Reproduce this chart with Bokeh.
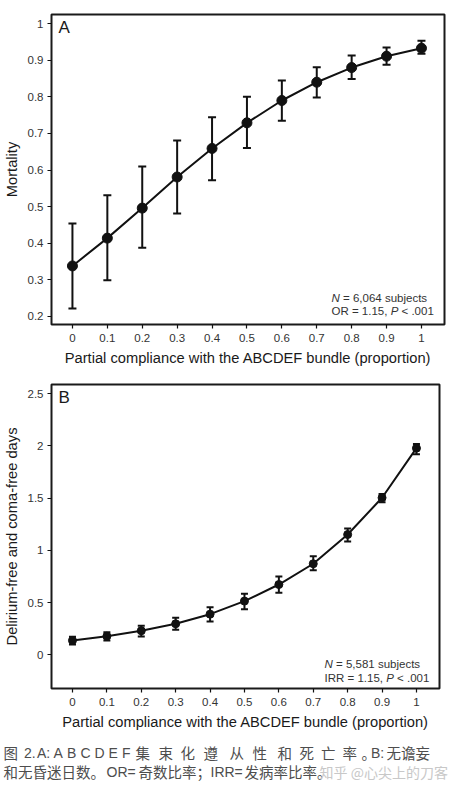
from bokeh.plotting import figure
from bokeh.models import Range1d, ColumnDataSource, Whisker, TeeHead, FixedTicker
from bokeh.layouts import column, row
from bokeh.core.properties import value
from bokeh.embed import file_html
from bokeh.resources import INLINE

# ---------------- data ----------------
compliance = [0.0, 0.1, 0.2, 0.3, 0.4, 0.5, 0.6, 0.7, 0.8, 0.9, 1.0]

mortality = [0.338, 0.414, 0.496, 0.581, 0.659, 0.729, 0.790, 0.840, 0.880, 0.911, 0.933]
mortality_lo = [0.222, 0.299, 0.388, 0.481, 0.572, 0.660, 0.735, 0.798, 0.849, 0.888, 0.918]
mortality_hi = [0.454, 0.531, 0.610, 0.681, 0.744, 0.800, 0.845, 0.881, 0.913, 0.935, 0.953]

free_days = [0.137, 0.178, 0.230, 0.297, 0.389, 0.514, 0.673, 0.872, 1.152, 1.504, 1.979]
free_days_lo = [0.099, 0.137, 0.175, 0.239, 0.319, 0.437, 0.594, 0.810, 1.085, 1.460, 1.920]
free_days_hi = [0.172, 0.217, 0.278, 0.354, 0.456, 0.584, 0.750, 0.944, 1.210, 1.540, 2.020]

x_ticks = [0.0, 0.1, 0.2, 0.3, 0.4, 0.5, 0.6, 0.7, 0.8, 0.9, 1.0]
x_tick_labels = ["0", "0.1", "0.2", "0.3", "0.4", "0.5", "0.6", "0.7", "0.8", "0.9", "1"]
a_y_ticks = [0.2, 0.3, 0.4, 0.5, 0.6, 0.7, 0.8, 0.9, 1.0]
a_y_tick_labels = ["0.2", "0.3", "0.4", "0.5", "0.6", "0.7", "0.8", "0.9", "1"]
b_y_ticks = [0.0, 0.5, 1.0, 1.5, 2.0, 2.5]
b_y_tick_labels = ["0", "0.5", "1", "1.5", "2", "2.5"]

x_title = "Partial compliance with the ABCDEF bundle (proportion)"
a_y_title = "Mortality"
b_y_title = "Delirium-free and coma-free days"

# caption tokens
caption_line1 = ["图", "2.", "A:", "A", "B", "C", "D", "E", "F", "集", "束", "化", "遵",
                 "从", "性", "和", "死", "亡", "率", "。", "B:", "无", "谵", "妄"]
caption_line1_cjk = [True, False, False, False, False, False, False, False, False,
                     True, True, True, True, True, True, True, True, True, True, True,
                     False, True, True, True]
caption_line1_x = [3, 23.5, 36.5, 53, 66.5, 80, 94, 108, 121.5, 135, 158, 180, 203,
                   229, 252, 277, 299, 320.5, 342, 361, 370.5, 386, 400.5, 415]
caption_line2 = ["和无昏迷日数。", "OR=", "奇数比率；", "IRR=", "发病率比率。"]
caption_line2_cjk = [True, False, True, False, True]
caption_line2_x = [3, 106, 138, 210, 244]
watermark = "知乎 @心尖上的刀客"

FONT = "Liberation Sans"
INK = "#111111"


def make_panel(frame_w, frame_h, border, xr, yr, yticks, ylabels, ytitle):
    p = figure(width=border[0] + frame_w + border[1], height=border[2] + frame_h + border[3],
               frame_width=frame_w, frame_height=frame_h,
               x_range=Range1d(*xr), y_range=Range1d(*yr),
               output_backend="svg", toolbar_location=None,
               min_border_left=border[0], min_border_right=border[1],
               min_border_top=border[2], min_border_bottom=border[3])
    p.xgrid.visible = False
    p.ygrid.visible = False
    p.background_fill_color = "white"
    p.border_fill_color = "white"
    p.outline_line_color = "#1a1a1a"
    p.outline_line_width = 2
    for ax in (p.xaxis[0], p.yaxis[0]):
        ax.axis_line_color = None
        ax.major_tick_line_color = INK
        ax.major_tick_line_width = 1.2
        ax.major_tick_out = 4
        ax.major_tick_in = 0
        ax.minor_tick_line_color = None
        ax.major_label_text_font = FONT
        ax.major_label_text_font_size = "11.5px"
        ax.major_label_text_color = "#333333"
        ax.axis_label_text_font = FONT
        ax.axis_label_text_font_size = "14.7px"
        ax.axis_label_text_font_style = "normal"
        ax.axis_label_text_color = "#1a1a1a"
        ax.axis_label_standoff = 5
    p.xaxis[0].ticker = FixedTicker(ticks=x_ticks)
    p.xaxis[0].major_label_overrides = {t: l for t, l in zip(x_ticks, x_tick_labels)}
    p.xaxis[0].major_label_standoff = 5
    p.xaxis[0].axis_label = x_title
    p.yaxis[0].ticker = FixedTicker(ticks=yticks)
    p.yaxis[0].major_label_overrides = {t: l for t, l in zip(yticks, ylabels)}
    p.yaxis[0].major_label_standoff = 4
    p.yaxis[0].axis_label = ytitle
    return p


def px_to_data(p, fw, fh, px, py):
    xr, yr = p.x_range, p.y_range
    return (xr.start + px / fw * (xr.end - xr.start),
            yr.end - py / fh * (yr.end - yr.start))


def add_series(p, y, lo, hi, size, head):
    src = ColumnDataSource(dict(x=compliance, y=y, lo=lo, hi=hi))
    p.add_layout(Whisker(base="x", upper="hi", lower="lo", source=src,
                         line_color=INK, line_width=2,
                         upper_head=TeeHead(size=head, line_color=INK, line_width=2),
                         lower_head=TeeHead(size=head, line_color=INK, line_width=2)))
    p.line("x", "y", source=src, line_color=INK, line_width=2)
    p.scatter("x", "y", source=src, size=size, fill_color=INK, line_color=INK)


def add_note(p, fw, fh, px, py1, py2, n_text, stat_prefix):
    fs = 11.5
    common = dict(text_font=value(FONT), text_font_size=f"{fs}px", text_color="#333333",
                  text_baseline="middle", text_align="left")
    x0, y1 = px_to_data(p, fw, fh, px, py1)
    _, y2 = px_to_data(p, fw, fh, px, py2)
    p.text(x=[x0], y=[y1], text=["N"], text_font_style="italic", **common)
    p.text(x=[x0], y=[y1], x_offset=(0.722 + 0.278) * fs, text=[n_text], **common)
    widths = {"OR = 1.15,": 5.142, "IRR = 1.15,": 5.364}
    w = widths[stat_prefix] * fs
    p.text(x=[x0], y=[y2], text=[stat_prefix], **common)
    p.text(x=[x0], y=[y2], x_offset=w, text=["P"], text_font_style="italic", **common)
    p.text(x=[x0], y=[y2], x_offset=w + (0.667 + 0.278) * fs, text=["< .001"], **common)


def add_letter(p, fw, fh, px, py, letter):
    x, y = px_to_data(p, fw, fh, px, py)
    p.text(x=[x], y=[y], text=[letter], text_font=value(FONT), text_font_size="17px",
           text_color="#1a1a1a", text_baseline="middle", text_align="left")


# ---------------- Panel A ----------------
AW, AH = 393, 310
pA = make_panel(AW, AH, (48, 8, 14, 46), (-0.06, 1.066), (0.178, 1.025),
                a_y_ticks, a_y_tick_labels, a_y_title)
add_series(pA, mortality, mortality_lo, mortality_hi, 10, 8)
add_letter(pA, AW, AH, 7, 13, "A")
add_note(pA, AW, AH, 280, 283, 296, "= 6,064 subjects", "OR = 1.15,")

# ---------------- Panel B ----------------
BW, BH = 388, 304
pB = make_panel(BW, BH, (48, 13, 14, 47), (-0.061, 1.067), (-0.323, 2.589),
                b_y_ticks, b_y_tick_labels, b_y_title)
add_series(pB, free_days, free_days_lo, free_days_hi, 8, 7)
add_letter(pB, BW, BH, 7, 13, "B")
add_note(pB, BW, BH, 273, 279, 293, "= 5,581 subjects", "IRR = 1.15,")

# ---------------- Caption ----------------
pC = figure(width=449, height=54, frame_width=449, frame_height=54,
            x_range=Range1d(0, 449), y_range=Range1d(54, 0),
            output_backend="svg", toolbar_location=None,
            min_border_left=0, min_border_right=0, min_border_top=0, min_border_bottom=0,
            x_axis_location=None, y_axis_location=None)
pC.xgrid.visible = False
pC.ygrid.visible = False
pC.outline_line_color = None
CAP_COLOR = "#4d4d4d"


def caption_tokens(texts, flags, xs, y):
    cj = [(t, x) for t, f, x in zip(texts, flags, xs) if f]
    la = [(t, x) for t, f, x in zip(texts, flags, xs) if not f]
    if cj:
        pC.text(x=[x for _, x in cj], y=[y] * len(cj), text=[t for t, _ in cj],
                text_font=value("Noto Sans CJK SC"), text_font_size="14.5px",
                text_color=CAP_COLOR, text_baseline="middle", text_align="left")
    if la:
        pC.text(x=[x for _, x in la], y=[y + 0.5] * len(la), text=[t for t, _ in la],
                text_font=value(FONT), text_font_size="14px",
                text_color=CAP_COLOR, text_baseline="middle", text_align="left")


caption_tokens(caption_line1, caption_line1_cjk, caption_line1_x, 16.5)
caption_tokens(caption_line2, caption_line2_cjk, caption_line2_x, 36)
pC.text(x=[319], y=[36], text=[watermark], text_font=value("Noto Sans CJK SC"),
        text_font_size="14px", text_color="#c8c8c8", text_baseline="middle",
        text_align="left")

layout = column(row(pA), row(pB), row(pC), spacing=0)
open("out.html", "w").write(file_html(layout, INLINE))
